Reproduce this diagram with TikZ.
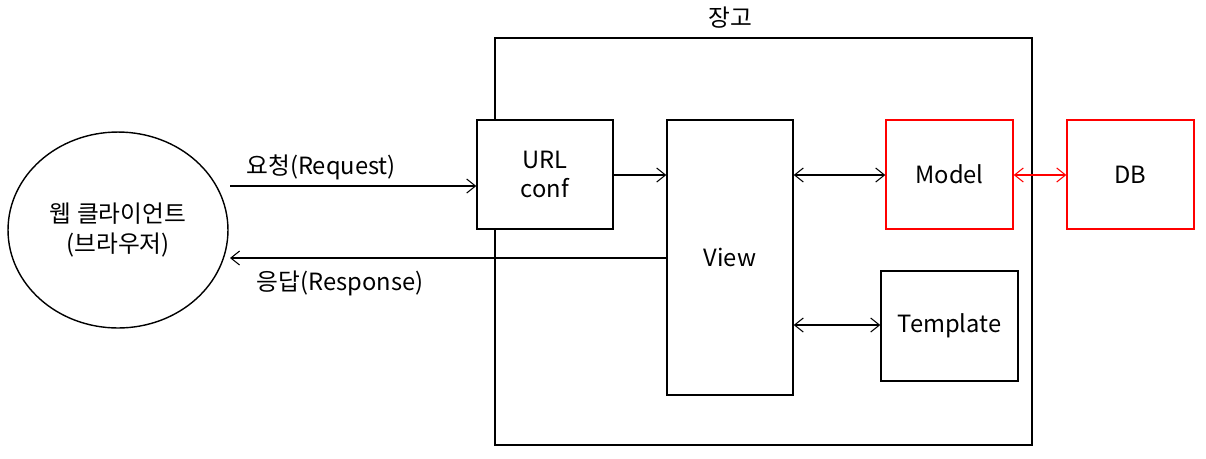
\documentclass[tikz,border=0pt]{standalone}
\usepackage{fontspec}
\setmainfont{Noto Sans CJK KR}
\usetikzlibrary{shapes.geometric,arrows.meta}
\tikzset{
  box/.style={draw, thick, minimum width=#1, inner sep=0pt, align=center},
  redbox/.style={box=#1, draw=red},
  con/.style={->, >={Straight Barb[length=5pt,width=8pt]}, semithick},
}
\begin{document}
\begin{tikzpicture}[x=0.02cm, y=-0.02cm, font=\fontsize{13.5}{17}\selectfont]
    \useasboundingbox (0,0) rectangle (1206,458);
    % bounding boxes
    \node[box=10.74cm, minimum height=8.14cm] (django) at (763.5,241.5) {};
    \node (djlabel) at (730,18) {장고};
    \node[draw, thick, ellipse, minimum width=4.4cm, minimum height=3.92cm, align=center] (client) at (118,230) {웹 클라이언트\\(브라우저)};
    % components
    \node[box=2.72cm, minimum height=2.18cm, fill=white] (url) at (545,174.5) {URL\\conf};
    \node[box=2.52cm, minimum height=5.5cm] (view) at (730,257.5) {View};
    \node[redbox=2.54cm, minimum height=2.18cm] (model) at (949.5,174.5) {Model};
    \node[redbox=2.54cm, minimum height=2.18cm] (db) at (1130.5,174.5) {DB};
    \node[box=2.74cm, minimum height=2.2cm] (tmpl) at (949.5,326) {Template};
    % connectors
    \coordinate (reqstart) at (230,186);
    \coordinate (respend) at (230,258);
    \draw[con] (reqstart) -- node[above, pos=0.37] {요청(Request)} (reqstart -| url.west);
    \draw[con] (url.east |- 0,175) -- (view.west |- 0,175);
    \draw[con, <->] (view.east |- 0,175) -- (model.west |- 0,175);
    \draw[con, <->, red] (model.east |- 0,175) -- (db.west |- 0,175);
    \draw[con, <->] (view.east |- 0,325) -- (tmpl.west |- 0,325);
    \draw[con] (view.west |- respend) -- (respend);
    \node[anchor=north] (resplabel) at (340,265) {응답(Response)};
\end{tikzpicture}
\end{document}
